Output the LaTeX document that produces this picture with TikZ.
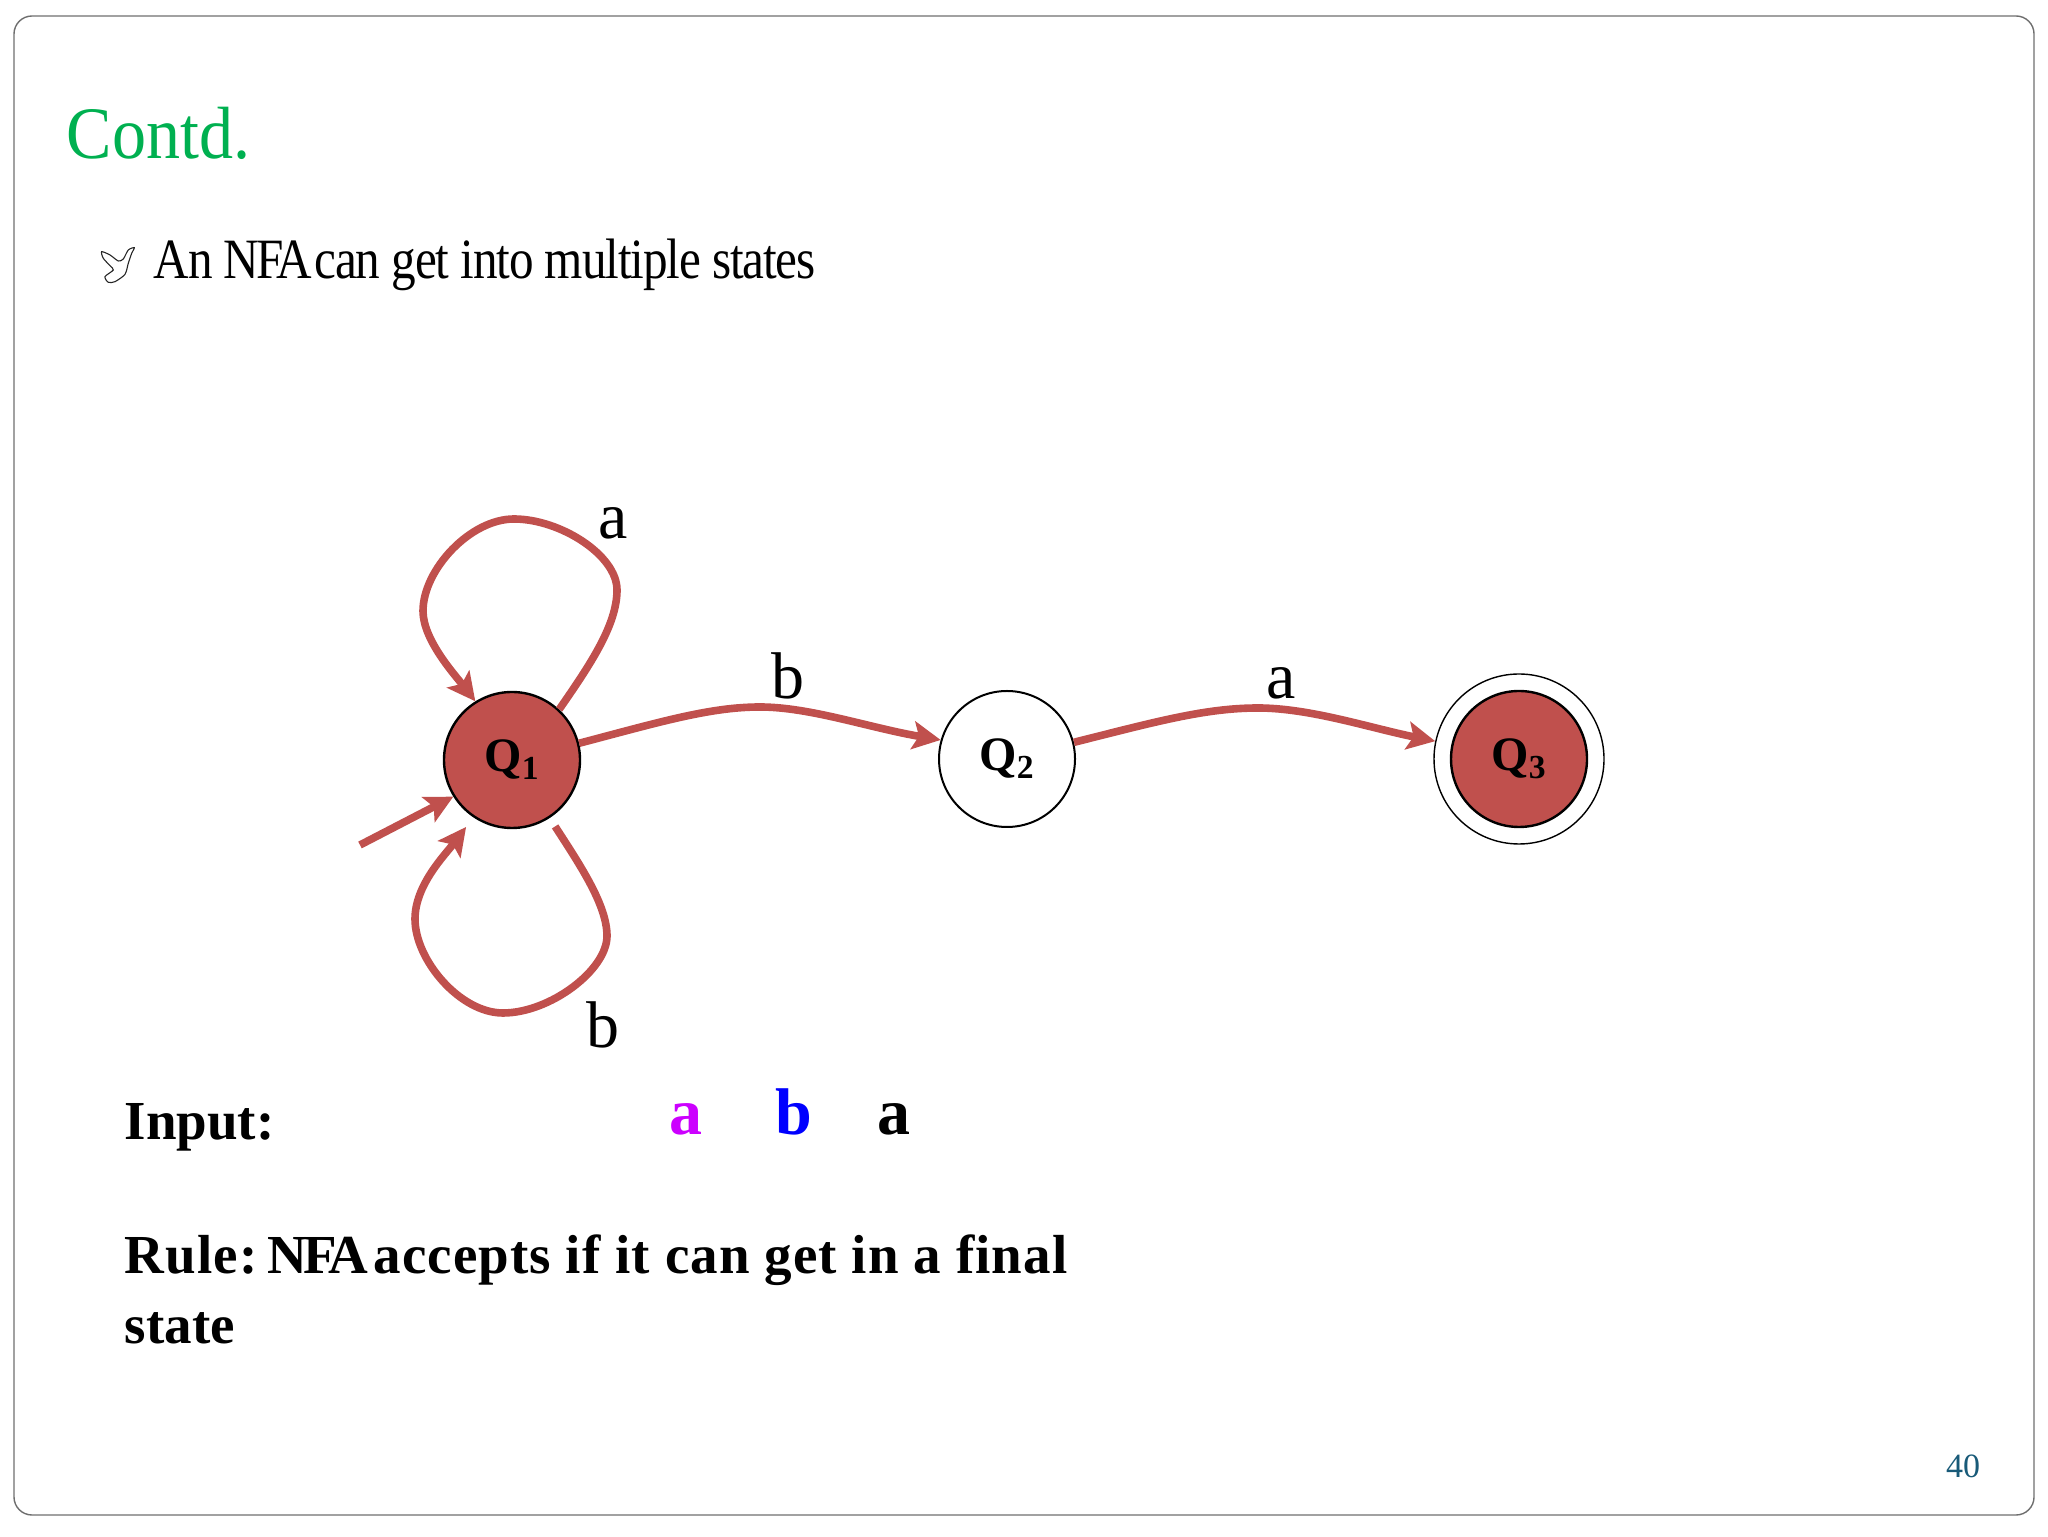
\documentclass[tikz,border=0pt]{standalone}
\usepackage{fontspec}
\setmainfont{Liberation Serif}
\usetikzlibrary{arrows.meta}
\definecolor{node_red}{RGB}{192,80,77}
\definecolor{edge_red}{RGB}{192,80,77}
\definecolor{title_green}{RGB}{0,176,80}
\definecolor{frame_gray}{RGB}{110,110,110}
\definecolor{page_blue}{RGB}{24,90,120}
\definecolor{input_pink}{RGB}{204,0,255}
\definecolor{input_blue}{RGB}{0,0,255}
\newcommand{\tightnfa}{{\addfontfeature{LetterSpace=-7}NFA}\hspace{-5pt}}

\begin{document}
\begin{tikzpicture}[->,line width=3.8pt,>={Stealth[length=14pt,width=14pt,inset=3pt]},x=0.5pt,y=0.5pt]
    \tikzstyle{stateplain}=[draw=black, line width=1pt, circle, minimum size=68pt, inner sep=0pt, fill=white, text=black, font=\fontsize{24}{24}\selectfont\bfseries]
    \tikzstyle{statered}=[style=stateplain, fill=node_red, line width=1.2pt]
    \tikzstyle{statering}=[draw=black, line width=0.7pt, circle, minimum size=85pt, inner sep=0pt, fill=white]
    \tikzstyle{flow}=[draw=edge_red]
    \tikzstyle{edgetext}=[text=black, inner sep=0pt, font=\fontsize{33}{33}\selectfont]
    \tikzstyle{heading}=[anchor=base west, inner sep=0pt, text=title_green, font=\fontsize{37}{45}\selectfont]
    \tikzstyle{bodytext}=[anchor=base west, inner sep=0pt, text=black, font=\fontsize{28.5}{34}\selectfont\addfontfeature{LetterSpace=-2.3}]
    \tikzstyle{boldtext}=[anchor=base west, inner sep=0pt, text=black, align=left, font=\fontsize{27.5}{35}\selectfont\bfseries]
    \tikzstyle{inputsym}=[anchor=base, inner sep=0pt, font=\fontsize{33}{33}\selectfont\bfseries]

    \useasboundingbox (0,0) rectangle (2048,1536);
    \draw[-,draw=frame_gray,line width=0.7pt,rounded corners=9pt] (14,1520) rectangle (2034,21);

    \node[heading] (title) at (63,1377) {\scalebox{0.92}[1]{Contd.}};
    \draw[-,line width=0.55pt,draw=black!85] plot[smooth cycle,tension=0.45] coordinates {(134.3,1288.3) (128.3,1286) (123.3,1277) (118.3,1275) (110,1281) (101.7,1284.3) (103.3,1277.7) (110,1270.3) (113.3,1266) (105,1259.3) (108.3,1253.7) (115,1254.3) (125,1261.7) (128.3,1272.7) (131.7,1282.7)};
    \node[bodytext] (point) at (150,1257) {\scalebox{0.863}[1]{An \tightnfa{} can get into multiple states}};

    \node[statered] (Q1) at (512,776) {Q\textsubscript{1}};
    \node[stateplain] (Q2) at (1007,777) {Q\textsubscript{2}};
    \node[statering] (Q3ring) at (1519,777) {};
    \node[statered] (Q3) at (1519,777) {Q\textsubscript{3}};
    \coordinate (start) at (360,691);

    \node[edgetext] (la1) at (613,1013) {a};
    \node[edgetext] (lb1) at (788,860) {b};
    \node[edgetext] (la2) at (1281,853) {a};
    \node[edgetext] (lb2) at (603,511) {b};

    \path (start) edge[flow] (Q1.212);
    \draw[flow] (Q1.14) .. controls (660,814) and (710,829) .. (760,829)
       .. controls (810,829) and (870,808) .. (Q2.164);
    \draw[flow] (Q2.14) .. controls (1155,814) and (1205,828) .. (1258,828)
       .. controls (1310,828) and (1370,808) .. (Q3ring.168);
    \draw[flow] (Q1.47) .. controls (590,871) and (617,911) .. (617,946)
       .. controls (617,981) and (560,1017) .. (514,1017)
       .. controls (470,1017) and (423,966) .. (423,925)
       .. controls (423,896) and (455,861) .. (Q1.122);
    \draw[flow,shorten <=5pt,shorten >=6pt] (Q1.303) .. controls (580,671) and (607,631) .. (607,600)
       .. controls (607,566) and (550,523) .. (503,523)
       .. controls (460,523) and (415,576) .. (415,617)
       .. controls (415,651) and (445,681) .. (Q1.236);

    \node[boldtext] (input) at (121,396) {Input:};
    \node[inputsym,text=input_pink] (in1) at (686,401) {a};
    \node[inputsym,text=input_blue] (in2) at (794,401) {b};
    \node[inputsym,text=black] (in3) at (894,401) {a};
    \node[boldtext] (rule) at (121,193) {\addfontfeature{LetterSpace=2}Rule:\hspace{-5pt} \tightnfa{} accepts if it can get in a final\\state};

    \node[anchor=base east,inner sep=0pt,text=page_blue,font=\fontsize{17}{17}\selectfont] (page) at (1984,59) {40};
\end{tikzpicture}
\end{document}
